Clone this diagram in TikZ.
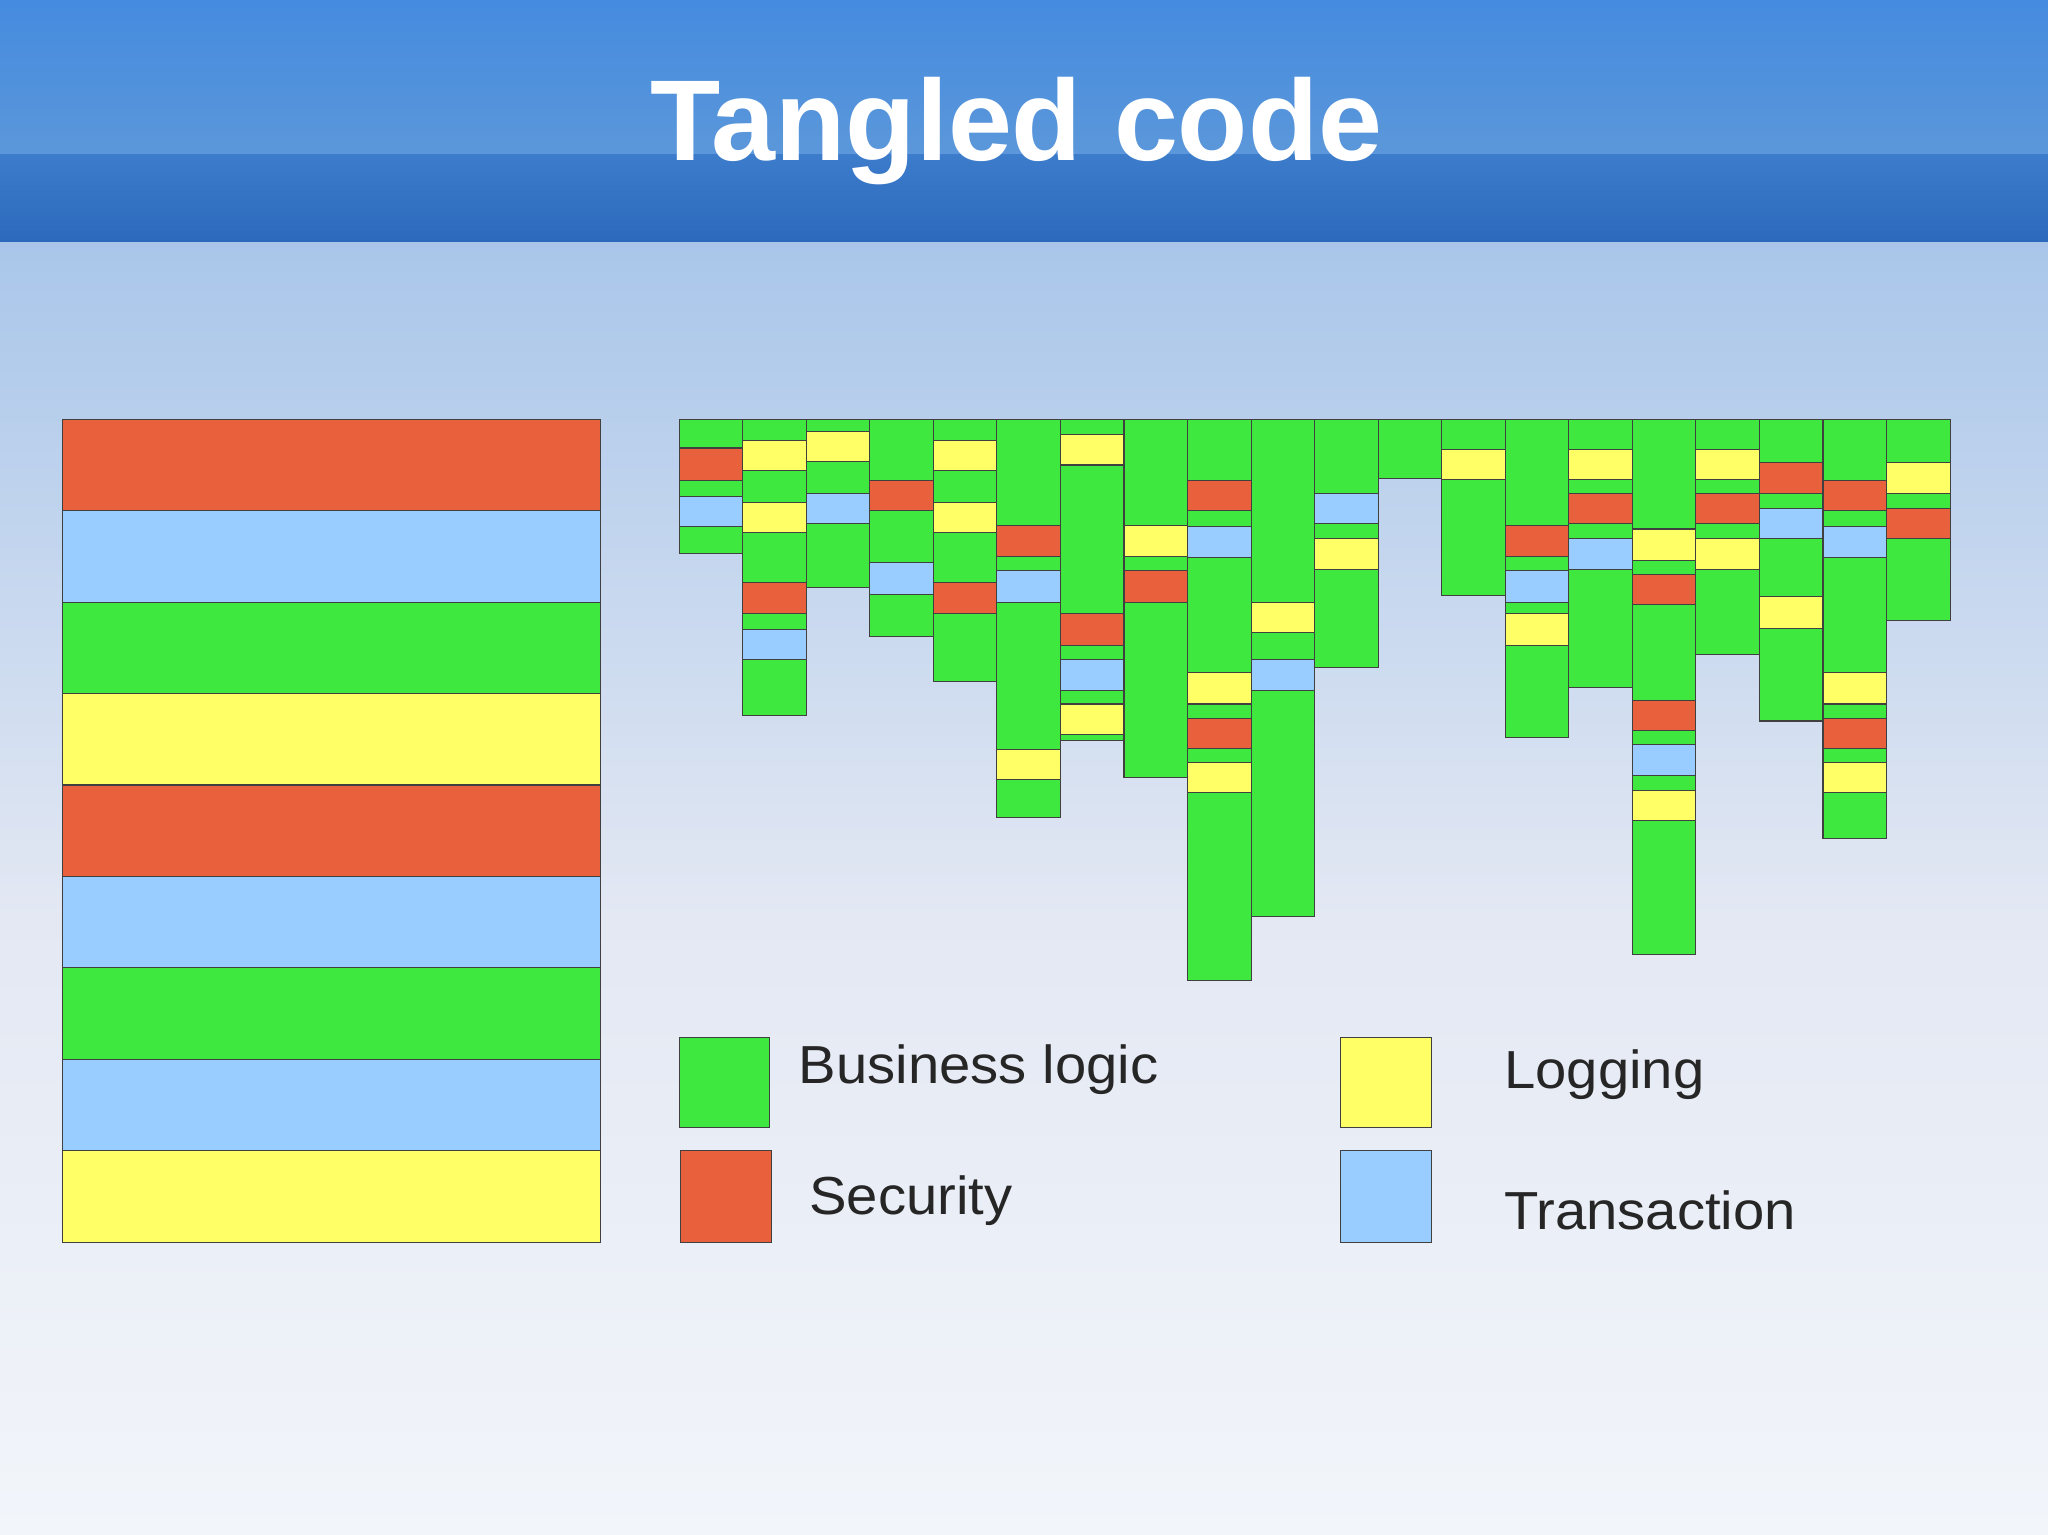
\documentclass[tikz,border=0pt]{standalone}
\usepackage{fontspec}
\setmainfont{Liberation Sans}
\begin{document}
\begin{tikzpicture}[x=1pt,y=-1pt,
  seg/.style={draw=black!75,line width=0.8pt},
  lbl/.style={anchor=west,font=\fontsize{41}{48}\selectfont,text=black!85,xscale=1.05}]
\definecolor{cg}{HTML}{3EE83E}\definecolor{cr}{HTML}{E8603C}
\definecolor{cb}{HTML}{99CCFF}\definecolor{cy}{HTML}{FFFF66}
\definecolor{bgA}{HTML}{A9C6EA}\definecolor{bgB}{HTML}{E3E8F3}\definecolor{bgC}{HTML}{F2F5FA}
\definecolor{hdA}{HTML}{458BDF}\definecolor{hdB}{HTML}{5B97DA}\definecolor{hdC}{HTML}{3C7CCB}\definecolor{hdD}{HTML}{2C69BD}
\useasboundingbox (0,0) rectangle (1568,1175);
\shade[top color=bgA,bottom color=bgB] (0,185) rectangle (1568,700);
\shade[top color=bgB,bottom color=bgC] (0,700) rectangle (1568,1175);
\shade[top color=hdA,bottom color=hdB] (0,0) rectangle (1568,118);
\shade[top color=hdC,bottom color=hdD] (0,118) rectangle (1568,185);
\node[font=\bfseries\fontsize{88}{100}\selectfont,text=white] (title) at (778,100) {Tangled code};
% left stack
\foreach \c [count=\i from 0] in {cr,cb,cg,cy,cr,cb,cg,cb,cy}{
  \pgfmathsetmacro\ya{321+\i*70}\pgfmathsetmacro\yb{391+\i*70}
  \draw[seg,fill=\c] (48,\ya) rectangle (460,\yb);
}
\newcommand\col[3]{%
  \pgfmathsetmacro\xa{520+(#1-1)*48.65}\pgfmathsetmacro\xb{520+#1*48.65}%
  \draw[seg,fill=cg] (\xa,321) rectangle (\xb,#2);
  \foreach \cc/\ya/\yb in {#3}{\draw[seg,fill=\cc] (\xa,\ya) rectangle (\xb,\yb);}}
\col{1}{424}{cr/343/368,cb/380/403}
\col{2}{548}{cy/337/360,cy/385/408,cr/446/470,cb/482/505}
\col{3}{450}{cy/330/353,cb/378/401}
\col{4}{487}{cr/368/391,cb/431/455}
\col{5}{522}{cy/337/360,cy/385/408,cr/446/470}
\col{6}{626}{cr/402/426,cb/437/461,cy/574/597}
\col{7}{567}{cy/333/356,cr/470/494,cb/505/529,cy/539/562}
\col{8}{595}{cy/402/426,cr/437/461}
\col{9}{751}{cr/368/391,cb/403/427,cy/515/539,cr/550/573,cy/584/607}
\col{10}{702}{cy/461/484,cb/505/529}
\col{11}{511}{cb/378/401,cy/412/436}
\col{12}{366}{cg/321/366}
\col{13}{456}{cy/344/367}
\col{14}{565}{cr/402/426,cb/437/461,cy/470/494}
\col{15}{526}{cy/344/367,cr/378/401,cb/412/436}
\col{16}{731}{cy/405/429,cr/440/463,cr/536/559,cb/570/594,cy/605/628}
\col{17}{501}{cy/344/367,cr/378/401,cy/412/436}
\col{18}{552}{cr/354/378,cb/389/412,cy/457/481}
\col{19}{642}{cr/368/391,cb/403/427,cy/515/539,cr/550/573,cy/584/607}
\col{20}{475}{cy/354/378,cr/389/412}
% legend
\draw[seg,fill=cg] (520,794) rectangle (589,863);
\draw[seg,fill=cr] (521,881) rectangle (591,951);
\draw[seg,fill=cy] (1026,794) rectangle (1096,863);
\draw[seg,fill=cb] (1026,881) rectangle (1096,951);
\node[lbl] (l1) at (608,819) {Business logic};
\node[lbl] (l2) at (616,919) {Security};
\node[lbl] (l3) at (1148,823) {Logging};
\node[lbl] (l4) at (1148,927) {Transaction};
\end{tikzpicture}
\end{document}
